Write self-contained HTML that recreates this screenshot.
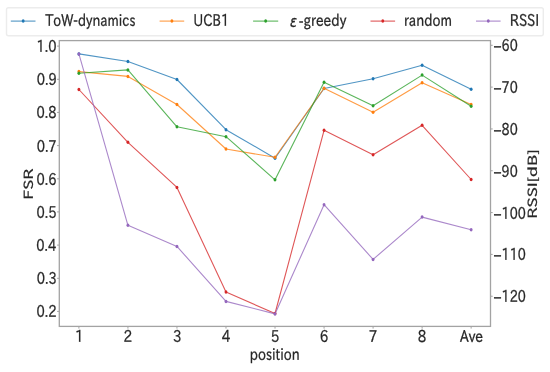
<!DOCTYPE html><html><head><meta charset="utf-8"><style>html,body{margin:0;padding:0;background:#fff;width:550px;height:372px;overflow:hidden}svg{display:block}</style></head><body>
<svg width="550" height="372" viewBox="0 0 550 372" font-family="IPAPGothic, IPAGothic, &quot;Liberation Sans&quot;, sans-serif">
<style>text{stroke:#262626;stroke-width:0.3px}</style>
<rect width="550" height="372" fill="#fff"/>
<path d="M57.10 46.10H59.3 M57.10 79.30H59.3 M57.10 112.40H59.3 M57.10 145.60H59.3 M57.10 178.80H59.3 M57.10 211.90H59.3 M57.10 245.10H59.3 M57.10 278.30H59.3 M57.10 311.40H59.3 M490.5 45.30H492.70 M490.5 87.12H492.70 M490.5 128.94H492.70 M490.5 170.76H492.70 M490.5 212.58H492.70 M490.5 254.40H492.70 M490.5 296.22H492.70 M78.90 326.4V328.60 M127.93 326.4V328.60 M176.96 326.4V328.60 M225.99 326.4V328.60 M275.02 326.4V328.60 M324.05 326.4V328.60 M373.08 326.4V328.60 M422.11 326.4V328.60 M471.14 326.4V328.60" stroke="#999" stroke-width="0.9" fill="none"/>
<polyline points="78.90,53.90 127.93,61.50 176.96,79.50 225.99,129.70 275.02,158.20 324.05,88.50 373.08,78.70 422.11,65.20 471.14,89.30" fill="none" stroke="#1f77b4" stroke-width="1.1" stroke-linejoin="round" stroke-opacity="0.78"/>
<ellipse cx="78.90" cy="53.90" rx="1.45" ry="1.75" fill="#1f77b4"/>
<ellipse cx="127.93" cy="61.50" rx="1.45" ry="1.75" fill="#1f77b4"/>
<ellipse cx="176.96" cy="79.50" rx="1.45" ry="1.75" fill="#1f77b4"/>
<ellipse cx="225.99" cy="129.70" rx="1.45" ry="1.75" fill="#1f77b4"/>
<ellipse cx="275.02" cy="158.20" rx="1.45" ry="1.75" fill="#1f77b4"/>
<ellipse cx="324.05" cy="88.50" rx="1.45" ry="1.75" fill="#1f77b4"/>
<ellipse cx="373.08" cy="78.70" rx="1.45" ry="1.75" fill="#1f77b4"/>
<ellipse cx="422.11" cy="65.20" rx="1.45" ry="1.75" fill="#1f77b4"/>
<ellipse cx="471.14" cy="89.30" rx="1.45" ry="1.75" fill="#1f77b4"/>
<polyline points="78.90,71.60 127.93,76.40 176.96,104.50 225.99,149.00 275.02,157.30 324.05,88.30 373.08,112.30 422.11,82.70 471.14,104.60" fill="none" stroke="#ff7f0e" stroke-width="1.1" stroke-linejoin="round" stroke-opacity="0.78"/>
<ellipse cx="78.90" cy="71.60" rx="1.45" ry="1.75" fill="#ff7f0e"/>
<ellipse cx="127.93" cy="76.40" rx="1.45" ry="1.75" fill="#ff7f0e"/>
<ellipse cx="176.96" cy="104.50" rx="1.45" ry="1.75" fill="#ff7f0e"/>
<ellipse cx="225.99" cy="149.00" rx="1.45" ry="1.75" fill="#ff7f0e"/>
<ellipse cx="275.02" cy="157.30" rx="1.45" ry="1.75" fill="#ff7f0e"/>
<ellipse cx="324.05" cy="88.30" rx="1.45" ry="1.75" fill="#ff7f0e"/>
<ellipse cx="373.08" cy="112.30" rx="1.45" ry="1.75" fill="#ff7f0e"/>
<ellipse cx="422.11" cy="82.70" rx="1.45" ry="1.75" fill="#ff7f0e"/>
<ellipse cx="471.14" cy="104.60" rx="1.45" ry="1.75" fill="#ff7f0e"/>
<polyline points="78.90,73.30 127.93,69.90 176.96,126.80 225.99,136.70 275.02,179.80 324.05,82.20 373.08,105.70 422.11,75.10 471.14,106.20" fill="none" stroke="#2ca02c" stroke-width="1.1" stroke-linejoin="round" stroke-opacity="0.78"/>
<ellipse cx="78.90" cy="73.30" rx="1.45" ry="1.75" fill="#2ca02c"/>
<ellipse cx="127.93" cy="69.90" rx="1.45" ry="1.75" fill="#2ca02c"/>
<ellipse cx="176.96" cy="126.80" rx="1.45" ry="1.75" fill="#2ca02c"/>
<ellipse cx="225.99" cy="136.70" rx="1.45" ry="1.75" fill="#2ca02c"/>
<ellipse cx="275.02" cy="179.80" rx="1.45" ry="1.75" fill="#2ca02c"/>
<ellipse cx="324.05" cy="82.20" rx="1.45" ry="1.75" fill="#2ca02c"/>
<ellipse cx="373.08" cy="105.70" rx="1.45" ry="1.75" fill="#2ca02c"/>
<ellipse cx="422.11" cy="75.10" rx="1.45" ry="1.75" fill="#2ca02c"/>
<ellipse cx="471.14" cy="106.20" rx="1.45" ry="1.75" fill="#2ca02c"/>
<polyline points="78.90,89.50 127.93,142.30 176.96,187.40 225.99,292.10 275.02,313.50 324.05,130.30 373.08,154.80 422.11,125.30 471.14,179.50" fill="none" stroke="#d62728" stroke-width="1.1" stroke-linejoin="round" stroke-opacity="0.78"/>
<ellipse cx="78.90" cy="89.50" rx="1.45" ry="1.75" fill="#d62728"/>
<ellipse cx="127.93" cy="142.30" rx="1.45" ry="1.75" fill="#d62728"/>
<ellipse cx="176.96" cy="187.40" rx="1.45" ry="1.75" fill="#d62728"/>
<ellipse cx="225.99" cy="292.10" rx="1.45" ry="1.75" fill="#d62728"/>
<ellipse cx="275.02" cy="313.50" rx="1.45" ry="1.75" fill="#d62728"/>
<ellipse cx="324.05" cy="130.30" rx="1.45" ry="1.75" fill="#d62728"/>
<ellipse cx="373.08" cy="154.80" rx="1.45" ry="1.75" fill="#d62728"/>
<ellipse cx="422.11" cy="125.30" rx="1.45" ry="1.75" fill="#d62728"/>
<ellipse cx="471.14" cy="179.50" rx="1.45" ry="1.75" fill="#d62728"/>
<polyline points="78.90,53.90 127.93,225.30 176.96,246.40 225.99,301.40 275.02,313.90 324.05,204.70 373.08,259.40 422.11,217.10 471.14,229.80" fill="none" stroke="#9467bd" stroke-width="1.1" stroke-linejoin="round" stroke-opacity="0.78"/>
<ellipse cx="78.90" cy="53.90" rx="1.45" ry="1.75" fill="#9467bd"/>
<ellipse cx="127.93" cy="225.30" rx="1.45" ry="1.75" fill="#9467bd"/>
<ellipse cx="176.96" cy="246.40" rx="1.45" ry="1.75" fill="#9467bd"/>
<ellipse cx="225.99" cy="301.40" rx="1.45" ry="1.75" fill="#9467bd"/>
<ellipse cx="275.02" cy="313.90" rx="1.45" ry="1.75" fill="#9467bd"/>
<ellipse cx="324.05" cy="204.70" rx="1.45" ry="1.75" fill="#9467bd"/>
<ellipse cx="373.08" cy="259.40" rx="1.45" ry="1.75" fill="#9467bd"/>
<ellipse cx="422.11" cy="217.10" rx="1.45" ry="1.75" fill="#9467bd"/>
<ellipse cx="471.14" cy="229.80" rx="1.45" ry="1.75" fill="#9467bd"/>
<rect x="59.3" y="40.6" width="431.20" height="285.80" fill="none" stroke="#a3a3a3" stroke-width="1.3"/>
<rect x="6.5" y="7.8" width="536.8" height="28.0" rx="2" ry="2" fill="#fff" stroke="#ececec" stroke-width="1.4"/>
<path d="M10.8 21.1H35.5" stroke="#1f77b4" stroke-width="1.1" stroke-opacity="0.78"/>
<ellipse cx="23.15" cy="21.1" rx="1.45" ry="1.75" fill="#1f77b4"/>
<path d="M159.6 21.1H184.2" stroke="#ff7f0e" stroke-width="1.1" stroke-opacity="0.78"/>
<ellipse cx="171.90" cy="21.1" rx="1.45" ry="1.75" fill="#ff7f0e"/>
<path d="M253.1 21.1H278.2" stroke="#2ca02c" stroke-width="1.1" stroke-opacity="0.78"/>
<ellipse cx="265.65" cy="21.1" rx="1.45" ry="1.75" fill="#2ca02c"/>
<path d="M370.5 21.1H395.1" stroke="#d62728" stroke-width="1.1" stroke-opacity="0.78"/>
<ellipse cx="382.80" cy="21.1" rx="1.45" ry="1.75" fill="#d62728"/>
<path d="M476.0 21.1H500.6" stroke="#9467bd" stroke-width="1.1" stroke-opacity="0.78"/>
<ellipse cx="488.30" cy="21.1" rx="1.45" ry="1.75" fill="#9467bd"/>
<text transform="translate(45.56,26.20) scale(0.7943,1)" font-size="16.4" fill="#262626">ToW-dynamics</text>
<text transform="translate(193.59,26.20) scale(0.7879,1)" font-size="16.4" fill="#262626">UCB1</text>
<text transform="translate(298.63,26.20) scale(0.8211,1)" font-size="16.4" fill="#262626"><tspan dy="0.8">-</tspan><tspan dy="-0.8">greedy</tspan></text>
<text transform="translate(289.9,26.5) scale(0.86,1)" font-family="&quot;DejaVu Sans&quot;, sans-serif" font-style="italic" font-size="15" fill="#262626">ε</text>
<text transform="translate(403.93,26.20) scale(0.8098,1)" font-size="16.4" fill="#262626">random</text>
<text transform="translate(509.87,26.20) scale(0.8521,1)" font-size="16.4" fill="#262626">RSSI</text>
<text transform="translate(36.45,52.11) scale(0.8,1)" font-size="16.4" fill="#262626">1.0</text>
<text transform="translate(36.72,85.31) scale(0.8,1)" font-size="16.4" fill="#262626">0.9</text>
<text transform="translate(36.44,118.41) scale(0.8,1)" font-size="16.4" fill="#262626">0.8</text>
<text transform="translate(36.65,151.61) scale(0.8,1)" font-size="16.4" fill="#262626">0.7</text>
<text transform="translate(36.49,184.81) scale(0.8,1)" font-size="16.4" fill="#262626">0.6</text>
<text transform="translate(36.56,217.91) scale(0.8,1)" font-size="16.4" fill="#262626">0.5</text>
<text transform="translate(36.20,251.11) scale(0.8,1)" font-size="16.4" fill="#262626">0.4</text>
<text transform="translate(36.83,284.31) scale(0.8,1)" font-size="16.4" fill="#262626">0.3</text>
<text transform="translate(36.52,317.41) scale(0.8,1)" font-size="16.4" fill="#262626">0.2</text>
<text transform="translate(493.53,51.31) scale(0.78,1)" font-size="16.4" fill="#262626"><tspan dy="1.0" style="stroke-width:0.6px">−</tspan><tspan dy="-1.0">60</tspan></text>
<text transform="translate(493.53,93.13) scale(0.78,1)" font-size="16.4" fill="#262626"><tspan dy="1.0" style="stroke-width:0.6px">−</tspan><tspan dy="-1.0">70</tspan></text>
<text transform="translate(493.53,134.95) scale(0.78,1)" font-size="16.4" fill="#262626"><tspan dy="1.0" style="stroke-width:0.6px">−</tspan><tspan dy="-1.0">80</tspan></text>
<text transform="translate(493.53,176.77) scale(0.78,1)" font-size="16.4" fill="#262626"><tspan dy="1.0" style="stroke-width:0.6px">−</tspan><tspan dy="-1.0">90</tspan></text>
<text transform="translate(493.53,218.59) scale(0.78,1)" font-size="16.4" fill="#262626"><tspan dy="1.0" style="stroke-width:0.6px">−</tspan><tspan dy="-1.0">100</tspan></text>
<text transform="translate(493.53,260.41) scale(0.78,1)" font-size="16.4" fill="#262626"><tspan dy="1.0" style="stroke-width:0.6px">−</tspan><tspan dy="-1.0">110</tspan></text>
<text transform="translate(493.53,302.23) scale(0.78,1)" font-size="16.4" fill="#262626"><tspan dy="1.0" style="stroke-width:0.6px">−</tspan><tspan dy="-1.0">120</tspan></text>
<text transform="translate(74.95,342.00) scale(0.83,1)" font-size="16.4" fill="#262626">1</text>
<text transform="translate(123.56,342.00) scale(0.83,1)" font-size="16.4" fill="#262626">2</text>
<text transform="translate(172.93,342.00) scale(0.83,1)" font-size="16.4" fill="#262626">3</text>
<text transform="translate(221.73,342.00) scale(0.83,1)" font-size="16.4" fill="#262626">4</text>
<text transform="translate(270.65,342.00) scale(0.83,1)" font-size="16.4" fill="#262626">5</text>
<text transform="translate(319.63,342.00) scale(0.83,1)" font-size="16.4" fill="#262626">6</text>
<text transform="translate(368.80,342.00) scale(0.83,1)" font-size="16.4" fill="#262626">7</text>
<text transform="translate(417.81,342.00) scale(0.83,1)" font-size="16.4" fill="#262626">8</text>
<text transform="translate(459.97,342.00) scale(0.83,1)" font-size="16.4" fill="#262626">Ave</text>
<text transform="translate(249.74,359.50) scale(0.8058,1)" font-size="16.4" fill="#262626">position</text>
<text transform="translate(32.60,199.64) scale(0.7800,1.0523) rotate(-90)" font-size="16.4" fill="#262626">FSR</text>
<text transform="translate(537.00,218.86) scale(0.7800,1.0635) rotate(-90)" font-size="16.4" fill="#262626">RSSI[dB]</text>
</svg></body></html>
